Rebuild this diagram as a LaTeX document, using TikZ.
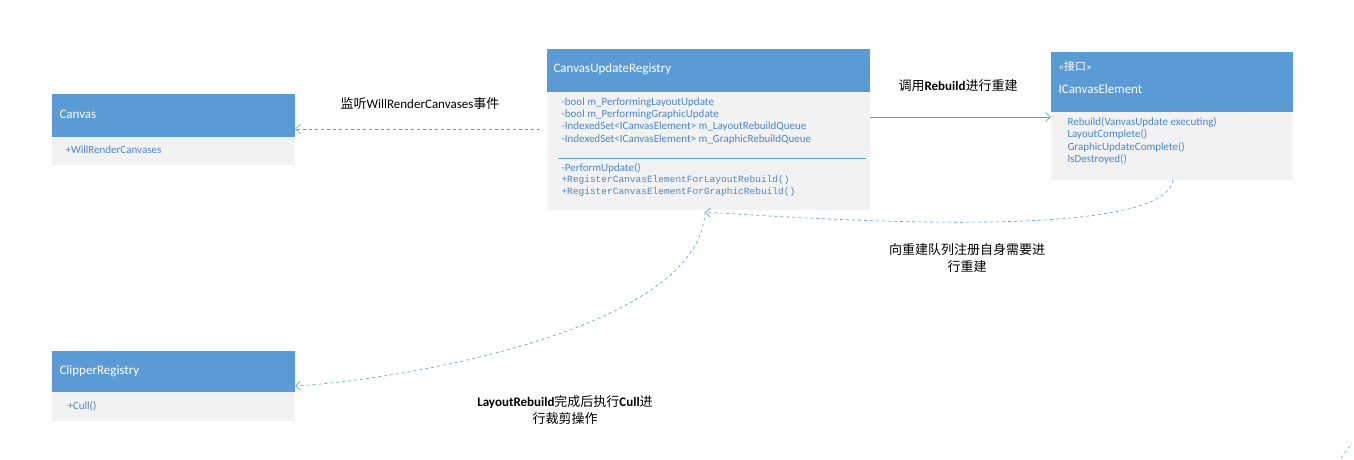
\documentclass[tikz,border=0pt]{standalone}
\usepackage{fontspec}
\setmainfont{Carlito}
\newfontfamily\cjk{Noto Sans CJK SC}
\newfontfamily\monof{Liberation Mono}
\usetikzlibrary{arrows.meta}
\definecolor{hdr}{HTML}{5B9BD5}
\definecolor{bdy}{HTML}{F2F2F2}
\definecolor{txt}{HTML}{4A86C8}
\definecolor{ln}{HTML}{5B9BD5}
\tikzset{
  hd/.style={fill=hdr,draw=none},
  bd/.style={fill=bdy,draw=none},
  htext/.style={text=white,anchor=west,font=\fontsize{13}{15}\selectfont},
  btext/.style={text=txt,anchor=north west,align=left,font=\fontsize{11}{12.4}\selectfont},
  lbl/.style={text=black,align=center,font=\fontsize{13}{17}\selectfont},
  conn/.style={draw=ln,line width=0.6pt,-{Straight Barb[length=5pt,width=9pt]}},
}
\begin{document}
\begin{tikzpicture}[x=1pt,y=-1pt]
\useasboundingbox (0,0) rectangle (1354,460);
% Canvas
\fill[hd] (52,94) rectangle (295,137);
\fill[bd] (52,137) rectangle (295,165);
\node[htext] (canvasT) at (56,114) {Canvas};
\node[btext] (canvasB) at (62,142) {+WillRenderCanvases};
\coordinate (canvasR) at (295,129);
% CUR
\fill[hd] (547,49) rectangle (870,92);
\fill[bd] (547,92) rectangle (870,210);
\node[htext] (curT) at (550,69) {CanvasUpdateRegistry};
\node[btext] (curA) at (558,94) {-bool m\_PerformingLayoutUpdate\\-bool m\_PerformingGraphicUpdate\\-IndexedSet<ICanvasElement> m\_LayoutRebuildQueue\\-IndexedSet<ICanvasElement> m\_GraphicRebuildQueue};
\draw[ln,line width=0.5pt] (558,158) -- (866,158);
\node[btext] (curM) at (558,160) {-PerformUpdate()\\[-1pt]{\monof\fontsize{9.5}{13.5}\selectfont +RegisterCanvasElementForLayoutRebuild()}\\[-1pt]{\monof\fontsize{9.5}{13.5}\selectfont +RegisterCanvasElementForGraphicRebuild()}};
\coordinate (curL) at (540,129);
\coordinate (curR) at (870,117);
\coordinate (curB) at (705,212);
% ICanvasElement
\fill[hd] (1051,52) rectangle (1293,112);
\fill[bd] (1051,112) rectangle (1293,180);
\node[htext,font=\fontsize{11}{13}\selectfont] (iceS) at (1055,66) {<<{\cjk 接口}>>};
\node[htext] (iceT) at (1055,89) {ICanvasElement};
\node[btext] (iceB) at (1064,114) {Rebuild(VanvasUpdate executing)\\LayoutComplete()\\GraphicUpdateComplete()\\IsDestroyed()};
\coordinate (iceL) at (1051,117);
\coordinate (iceBot) at (1173,180);
% ClipperRegistry
\fill[hd] (52,351) rectangle (295,392);
\fill[bd] (52,392) rectangle (295,421);
\node[htext] (clT) at (56,371) {ClipperRegistry};
\node[btext] (clB) at (64,398) {+Cull()};
\coordinate (clR) at (295,386);
% connectors
\draw[conn,dashed] (curL) -- (canvasR);
\draw[conn] (curR) -- (iceL);
\draw[conn,dashed] (iceBot) .. controls (1165,235) and (900,225) .. (curB);
\draw[conn,dashed] (curB) .. controls (700,330) and (400,380) .. (clR);
\draw[ln,dashed,line width=0.5pt] (1341,458) -- (1352,443);
% labels
\node[lbl] (l1) at (420,104) {{\cjk 监听}WillRenderCanvases{\cjk 事件}};
\node[lbl] (l2) at (958,86) {{\cjk 调用}\textbf{Rebuild}{\cjk 进行重建}};
\node[lbl] (l3) at (967,258) {{\cjk 向重建队列注册自身需要进}\\{\cjk 行重建}};
\node[lbl] (l4) at (565,410) {\textbf{LayoutRebuild}{\cjk 完成后执行}\textbf{Cull}{\cjk 进}\\{\cjk 行裁剪操作}};
\end{tikzpicture}
\end{document}
